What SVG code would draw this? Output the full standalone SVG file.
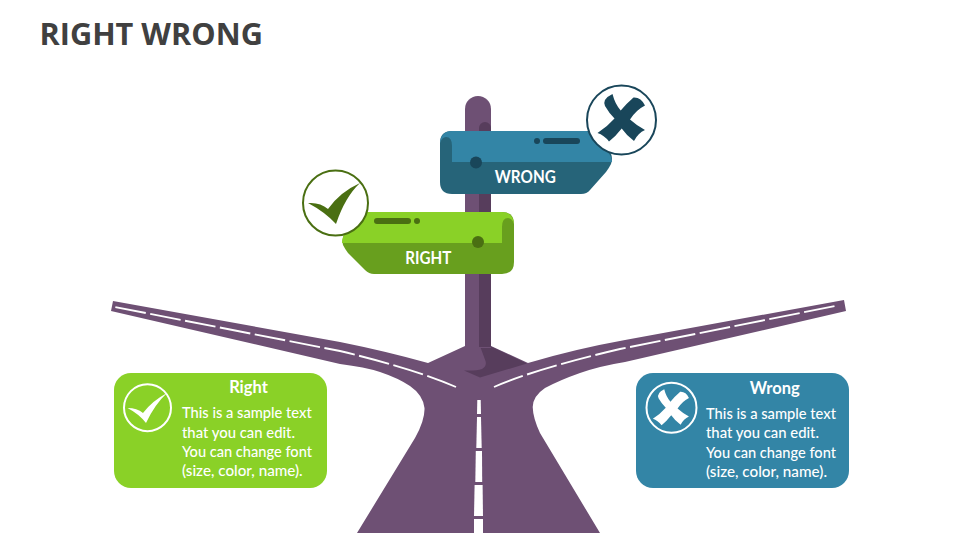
<svg xmlns="http://www.w3.org/2000/svg" width="960" height="540" viewBox="0 0 960 540">
<style>
.road{fill:#6e5074}
.shade{fill:#573d5c}
.dash{fill:none;stroke:#fff;stroke-dasharray:31 4.5}
.mark{fill:#fff}
.body{font-family:"Lato","Liberation Sans",sans-serif;font-size:15px;fill:#fff;font-weight:500}
.head{font-family:"Lato","Liberation Sans",sans-serif;font-size:16.5px;font-weight:700;fill:#fff;text-anchor:middle}
.sign{font-family:"Lato","Liberation Sans",sans-serif;font-size:16.5px;font-weight:700;fill:#fff;text-anchor:middle}
</style>
<defs>
<path id="x-shape" d="M612.500,94 Q602,99 605,106 Q609,113 614.500,118.500 Q607,127 597.500,133 Q604,135 609,141.500 Q616,136 621.700,128.500 Q627,136 634,141 Q638,133 645,130 Q636,125 630,119.500 Q636,110 645,105.500 Q641,97 633.500,97.500 Q626,104 620.700,110.500 Q615,104 612.500,94 Z"/>
</defs>
<rect width="960" height="540" fill="#fff"/>
<text id="title" x="39.500" y="45" font-family="'Open Sans','Liberation Sans',sans-serif" font-size="30.700" font-weight="700" fill="#404040">RIGHT WRONG</text>
<g id="road">
<path class="road" d="M357,533 L415,438 Q425,420 424.500,408 Q423,395 410,386 Q398,378 380,372 Q365,367 340,364 L111,311 L113,301 L340,342 Q385,351 428,363 L465,346 L491,346 L528,363 Q575,349 625,340 L844,300 L846,311 L625,362 Q600,366 580,373 Q560,380 545,388 Q533,396 532.700,407 Q533,418 540,433 L600,533 Z"/>
<path class="shade" d="M478.500,342 L491,346.500 L527,363.500 L480,377.500 L464,370.500 Q476,371 482,369 Q487,366 485.500,361 Z"/>
</g>
<g id="connectors">
<path class="dash" stroke-width="1.900" d="M456,387 Q415,369 340,351 L115,307"/>
<path class="dash" stroke-width="1.900" d="M494,387 Q535,369 620,349 L835,306"/>
<g class="mark">
<polygon points="477.300,400 480.700,400 481,414 477,414"/>
<polygon points="477,417 481,417 481.700,448 476.300,448"/>
<polygon points="475.800,451 482,451 482.200,482 475.300,482"/>
<polygon points="474.600,485 482.600,485 483,516 474,516"/>
<polygon points="474,519 483,519 483,533 474,533"/>
</g>
</g>
<g id="post">
<path class="road" d="M465,348 V109 A13,13 0 0 1 491,109 V348 Z"/>
<path class="shade" d="M479,347 V128 A6,6 0 0 1 491,128 V347 Z"/>
</g>
<g id="sign-wrong">
<path fill="#266479" d="M452,131 H590 L608,149 Q614,156 611,164 Q609,168 606,172 L590,190 Q587,194 581,194 H452 Q440,194 440,182 V143 Q440,131 452,131 Z"/>
<path fill="#3385a6" d="M452,131 H587 L606,150 Q612,156 612,162 H452 V146 Q452,137 446,137 Q442,137 440,143 Q441,131 452,131 Z"/>
<circle cx="476" cy="162.500" r="6" fill="#19465a"/>
<circle cx="537" cy="141" r="3" fill="#19465a"/>
<rect x="543" y="138" width="37" height="6" rx="3" fill="#19465a"/>
<text class="sign" x="525.300" y="182.500" textLength="61" lengthAdjust="spacingAndGlyphs">WRONG</text>
</g>
<g id="sign-right">
<path fill="#689f1e" d="M502,212 H365 L347,230 Q341,237 343,245 Q345,249 348,253 L365,270 Q369,274 374,274 H502 Q514,274 514,262 V224 Q514,212 502,212 Z"/>
<path fill="#8ad127" d="M502,212 H365 L347,230 Q342,236 342,243 H502 V227 Q502,218 508,218 Q512,218 514,224 Q513,212 502,212 Z"/>
<circle cx="478" cy="242" r="6" fill="#4a6f12"/>
<rect x="374" y="218" width="37" height="6" rx="3" fill="#4a6f12"/>
<circle cx="417" cy="221" r="3" fill="#4a6f12"/>
<text class="sign" x="428.300" y="264" textLength="46" lengthAdjust="spacingAndGlyphs">RIGHT</text>
</g>
<g id="badge-right">
<circle cx="335.500" cy="203" r="32.500" fill="#fff" stroke="#4a6f12" stroke-width="2"/>
<path fill="#4a6f12" d="M308,203 Q320,202 328,209 Q340,192 360,183 Q345,197 336,224 Q325,212 308,203 Z"/>
</g>
<g id="badge-wrong">
<circle cx="621.500" cy="120" r="34.500" fill="#fff" stroke="#19465a" stroke-width="2"/>
<use href="#x-shape" fill="#19465a"/>
</g>
<g id="card-right">
<rect x="114" y="373" width="213" height="115" rx="17" fill="#8ad127"/>
<circle cx="147.500" cy="407.700" r="23.500" fill="none" stroke="#fff" stroke-width="2"/>
<path fill="#fff" d="M127.500,408 Q137,408 143,413 Q152,401 167,393 Q155,404 146,423 Q139,414 127.500,408 Z"/>
<text class="head" x="248.500" y="392.500">Right</text>
<text class="body" x="182" y="418" textLength="129.700" lengthAdjust="spacingAndGlyphs">This is a sample text</text>
<text class="body" x="182" y="437.500" textLength="113" lengthAdjust="spacingAndGlyphs">that you can edit.</text>
<text class="body" x="182" y="456.500" textLength="130" lengthAdjust="spacingAndGlyphs">You can change font</text>
<text class="body" x="182" y="476" textLength="120.700" lengthAdjust="spacingAndGlyphs">(size, color, name).</text>
</g>
<g id="card-wrong">
<rect x="636" y="373" width="213" height="115" rx="17" fill="#3385a6"/>
<circle cx="671.500" cy="407.700" r="25" fill="none" stroke="#fff" stroke-width="2"/>
<use href="#x-shape" fill="#fff" transform="translate(670.700,407) scale(.76) translate(-621,-117.500)"/>
<text class="head" x="774.700" y="393.500">Wrong</text>
<text class="body" x="706" y="419" textLength="130" lengthAdjust="spacingAndGlyphs">This is a sample text</text>
<text class="body" x="706" y="438" textLength="113" lengthAdjust="spacingAndGlyphs">that you can edit.</text>
<text class="body" x="706" y="457.500" textLength="130" lengthAdjust="spacingAndGlyphs">You can change font</text>
<text class="body" x="706" y="476.500" textLength="121" lengthAdjust="spacingAndGlyphs">(size, color, name).</text>
</g>
</svg>
